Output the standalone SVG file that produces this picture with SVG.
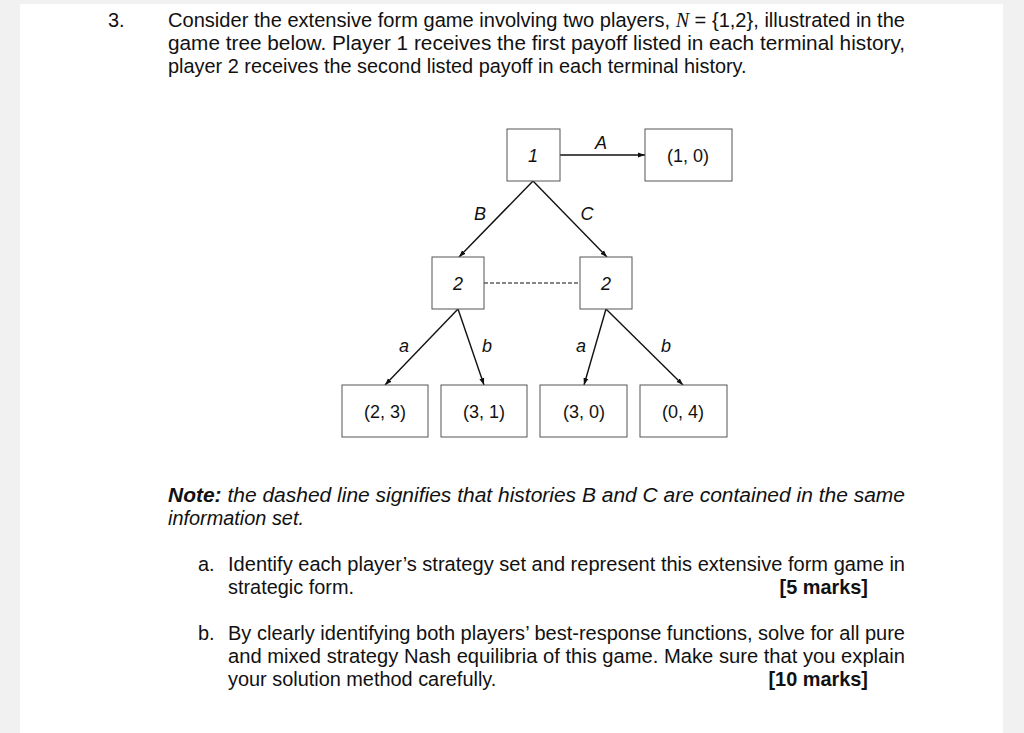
<svg xmlns="http://www.w3.org/2000/svg" width="1024" height="733" viewBox="0 0 1024 733">
<style>
text{font-family:"Liberation Sans",Arial,sans-serif;font-size:18px;fill:#111}
.b{font-size:19.9px}
.n rect{fill:#fff;stroke:#555;stroke-width:1}
.c{text-anchor:middle}
.i{font-style:italic}
.e line{stroke:#111;stroke-width:1.4}
</style>
<defs><marker id="ar" markerWidth="8" markerHeight="8" refX="7" refY="4" orient="auto" markerUnits="userSpaceOnUse"><path d="M0,1.5 L7,4 L0,6.5z" fill="#111"/></marker></defs>
<rect width="1024" height="733" fill="#f1f1f1"/>
<rect x="20" y="4" width="983" height="729" fill="#fff"/>
<text class="b" x="108" y="27">3.</text>
<text class="b" x="168" y="27" textLength="737" lengthAdjust="spacingAndGlyphs">Consider the extensive form game involving two players, <tspan font-family="Liberation Serif" font-style="italic">N</tspan> = {1,2}, illustrated in the</text>
<text class="b" x="168" y="50" textLength="737" lengthAdjust="spacingAndGlyphs">game tree below. Player 1 receives the first payoff listed in each terminal history,</text>
<text class="b" x="168" y="73">player 2 receives the second listed payoff in each terminal history.</text>
<g class="e">
<line x1="560" y1="155" x2="645" y2="155" marker-end="url(#ar)"/>
<line x1="533" y1="181" x2="459" y2="257" marker-end="url(#ar)"/>
<line x1="533" y1="181" x2="607" y2="257" marker-end="url(#ar)"/>
<line x1="458" y1="309" x2="385" y2="385" marker-end="url(#ar)"/>
<line x1="458" y1="309" x2="484" y2="385" marker-end="url(#ar)"/>
<line x1="606" y1="309" x2="584" y2="385" marker-end="url(#ar)"/>
<line x1="606" y1="309" x2="683" y2="385" marker-end="url(#ar)"/>
<line x1="484" y1="283" x2="580" y2="283" stroke-dasharray="4,2" style="stroke-width:1.2"/>
<text class="c i" x="601" y="149">A</text>
<text class="c i" x="480" y="220">B</text>
<text class="c i" x="587" y="220">C</text>
<text class="c i" x="404" y="352">a</text>
<text class="c i" x="487" y="352">b</text>
<text class="c i" x="581" y="352">a</text>
<text class="c i" x="666" y="352">b</text>
</g>
<g id="n1" class="n"><rect x="507" y="129" width="53" height="52"/><text class="c i" x="533" y="162">1</text></g>
<g id="t10" class="n"><rect x="645" y="129" width="87" height="52"/><text class="c" x="688" y="162">(1, 0)</text></g>
<g id="n2l" class="n"><rect x="432" y="257" width="52" height="52"/><text class="c i" x="458" y="290">2</text></g>
<g id="n2r" class="n"><rect x="580" y="257" width="52" height="52"/><text class="c i" x="606" y="290">2</text></g>
<g id="t23" class="n"><rect x="342" y="385" width="86" height="52"/><text class="c" x="385" y="418">(2, 3)</text></g>
<g id="t31" class="n"><rect x="441" y="385" width="86" height="52"/><text class="c" x="484" y="418">(3, 1)</text></g>
<g id="t30" class="n"><rect x="540" y="385" width="87" height="52"/><text class="c" x="584" y="418">(3, 0)</text></g>
<g id="t04" class="n"><rect x="640" y="385" width="87" height="52"/><text class="c" x="683" y="418">(0, 4)</text></g>
<text class="b" x="168" y="502" textLength="737" lengthAdjust="spacingAndGlyphs"><tspan font-weight="bold" font-style="italic">Note:</tspan><tspan font-style="italic"> the dashed line signifies that histories B and C are contained in the same</tspan></text>
<text class="b" x="168" y="525" font-style="italic">information set.</text>
<text class="b" x="198" y="571">a.</text>
<text class="b" x="228" y="571" textLength="677" lengthAdjust="spacingAndGlyphs">Identify each player’s strategy set and represent this extensive form game in</text>
<text class="b" x="228" y="594">strategic form.</text>
<text class="b" x="868" y="594" font-weight="bold" text-anchor="end">[5 marks]</text>
<text class="b" x="198" y="640">b.</text>
<text class="b" x="228" y="640" textLength="677" lengthAdjust="spacingAndGlyphs">By clearly identifying both players’ best-response functions, solve for all pure</text>
<text class="b" x="228" y="663" textLength="677" lengthAdjust="spacingAndGlyphs">and mixed strategy Nash equilibria of this game. Make sure that you explain</text>
<text class="b" x="228" y="686">your solution method carefully.</text>
<text class="b" x="868" y="686" font-weight="bold" text-anchor="end">[10 marks]</text>
</svg>
